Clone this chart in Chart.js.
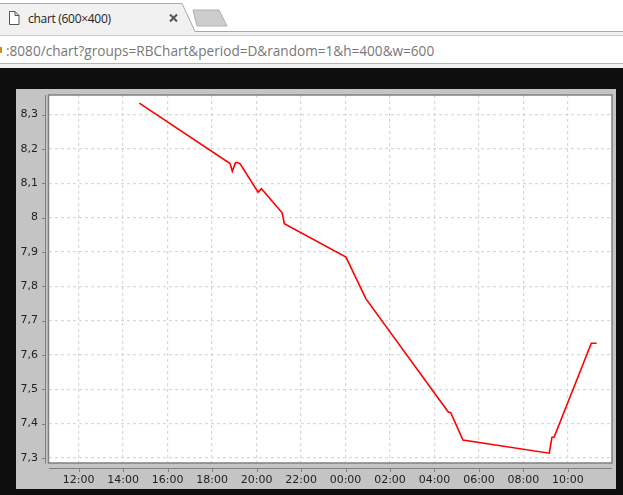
<!DOCTYPE html>
<html>
<head>
<meta charset="utf-8">
<title>chart (600×400)</title>
<script src="https://cdn.jsdelivr.net/npm/chart.js@4"></script>
<style>
  html, body { margin: 0; padding: 0; width: 623px; height: 495px; overflow: hidden; background: #0e0e0e; }
  #top { position: absolute; left: 0; top: 0; width: 623px; height: 68px; background: #f1f1f1; overflow: hidden; }
  #strip { position: absolute; left: 0; top: 0; width: 623px; height: 31px; background: #fff; border-bottom: 1px solid #a8a8a8; }
  #top svg { position: absolute; left: 0; top: 0; }
  #tabtitle { position: absolute; left: 28px; top: 10px; font: 12px "Open Sans", sans-serif; color: #222; white-space: nowrap; letter-spacing: -0.3px; }
  #url { position: absolute; left: 0; top: 36px; width: 623px; height: 27px; background: #fff; border-bottom: 1px solid #b5b5b5; }
  #urltext { position: absolute; left: 6px; top: 5px; font: 13.6px "Open Sans", sans-serif; color: #777; white-space: nowrap; }
  #dot { position: absolute; left: 0; top: 11px; width: 2px; height: 6px; background: #d08a20; }
  #wrap { position: absolute; left: 16px; top: 89px; width: 600px; height: 400px; background: #c4c4c4; }
  canvas { display: block; }
</style>
</head>
<body>
<div id="top">
  <div id="strip"></div>
  <svg width="623" height="36">
    <path d="M-2 36 L-2 3.5 L182 3.5 L195 31.5 L625 31.5 L625 36 Z" fill="#f1f1f1" stroke="#a8a8a8"/>
    <path d="M9.5 11.5 L15 11.5 L19 15.5 L19 24.5 L9.5 24.5 Z M15 11.5 L15 15.5 L19 15.5" fill="#fff" stroke="#555"/>
    <path d="M170 14.5 L177 21.5 M177 14.5 L170 21.5" stroke="#555" stroke-width="2"/>
    <path d="M193 10 L219 10 L227 26 L197 26 Z" fill="#cdcdcd" stroke="#b0b0b0"/>
  </svg>
  <div id="tabtitle">chart (600×400)</div>
  <div id="url"><div id="dot"></div><div id="urltext">:8080/chart?groups=RBChart&amp;period=D&amp;random=1&amp;h=400&amp;w=600</div></div>
</div>
<div id="wrap"><canvas id="myChart" width="600" height="400"></canvas></div>
<script>
// hours counted from midnight of the first day, 24 = 00:00 next day
var hours = [14.73, 18.81, 18.91, 19.05, 19.14, 19.27, 20.07, 20.22, 21.15, 21.25, 24.02, 24.92, 28.62, 28.73, 29.28, 33.16, 33.28, 33.38, 35.05, 35.29];
var values = [8.333, 8.157, 8.135, 8.159, 8.161, 8.156, 8.074, 8.084, 8.014, 7.982, 7.885, 7.763, 7.434, 7.432, 7.352, 7.314, 7.36, 7.361, 7.634, 7.634];
var xTicks = [12, 14, 16, 18, 20, 22, 24, 26, 28, 30, 32, 34];
var xLabels = ['12:00', '14:00', '16:00', '18:00', '20:00', '22:00', '00:00', '02:00', '04:00', '06:00', '08:00', '10:00'];
var yTicks = [7.3, 7.4, 7.5, 7.6, 7.7, 7.8, 7.9, 8, 8.1, 8.2, 8.3];
var yLabels = ['7,3', '7,4', '7,5', '7,6', '7,7', '7,8', '7,9', '8', '8,1', '8,2', '8,3'];

var axisColor = '#808080';
var gridColor = '#d8d8d8';

// white plot area, detached axes and plot frame, the way the original chart has them
var frame = {
    id: 'frame',
    beforeDraw: function(chart) {
        var a = chart.chartArea;
        chart.ctx.fillStyle = '#ffffff';
        chart.ctx.fillRect(a.left, a.top, a.right - a.left, a.bottom - a.top);
    },
    afterDraw: function(chart) {
        var c = chart.ctx, a = chart.chartArea;
        var xs = chart.scales.x, ys = chart.scales.y;
        c.save();
        c.strokeStyle = axisColor;
        c.lineWidth = 1.5;
        c.strokeRect(a.left - 0.5, a.top, a.right - a.left + 0.5, a.bottom - a.top);
        c.lineWidth = 1;
        c.beginPath();
        c.moveTo(a.left - 3.5, a.top);
        c.lineTo(a.left - 3.5, a.bottom + 0.5);
        c.moveTo(a.left, a.bottom + 5.5);
        c.lineTo(a.right, a.bottom + 5.5);
        xTicks.forEach(function(t) {
            var px = Math.round(xs.getPixelForValue(t)) + 0.5;
            c.moveTo(px, a.bottom + 5.5);
            c.lineTo(px, a.bottom + 9);
        });
        yTicks.forEach(function(t) {
            var py = Math.round(ys.getPixelForValue(t)) + 0.5;
            c.moveTo(a.left - 3.5, py);
            c.lineTo(a.left - 7, py);
        });
        c.stroke();
        c.restore();
    }
};

new Chart(document.getElementById('myChart').getContext('2d'), {
    type: 'line',
    plugins: [frame],
    data: {
        datasets: [{
            data: hours.map(function(h, i) { return { x: h, y: values[i] }; }),
            borderColor: '#ff0000',
            borderWidth: 1.6,
            pointRadius: 0,
            tension: 0,
            fill: false
        }]
    },
    options: {
        responsive: false,
        animation: false,
        devicePixelRatio: 1,
        layout: { autoPadding: false, padding: { top: 6, right: 4, left: 0, bottom: 0 } },
        plugins: { legend: { display: false }, title: { display: false }, tooltip: { enabled: false } },
        scales: {
            x: {
                type: 'linear',
                min: 10.67,
                max: 35.98,
                afterBuildTicks: function(s) { s.ticks = xTicks.map(function(v) { return { value: v }; }); },
                afterFit: function(s) { s.height = 26; s.paddingLeft = 0; s.paddingRight = 0; },
                border: { display: false, dash: [3, 3] },
                grid: { color: gridColor, drawTicks: false, lineWidth: 1.2 },
                ticks: {
                    autoSkip: false,
                    maxRotation: 0,
                    padding: 11,
                    color: '#222',
                    font: { family: '"DejaVu Sans"', size: 11 },
                    callback: function(v) { return xLabels[xTicks.indexOf(v)]; }
                }
            },
            y: {
                type: 'linear',
                min: 7.2854,
                max: 8.3568,
                afterBuildTicks: function(s) { s.ticks = yTicks.map(function(v) { return { value: v }; }); },
                afterFit: function(s) { s.width = 33; s.paddingTop = 0; s.paddingBottom = 0; },
                border: { display: false, dash: [3, 3] },
                grid: { color: gridColor, drawTicks: false, lineWidth: 1.2 },
                ticks: {
                    autoSkip: false,
                    padding: 11,
                    color: '#222',
                    font: { family: '"DejaVu Sans"', size: 11 },
                    callback: function(v) { return yLabels[yTicks.indexOf(v)]; }
                }
            }
        }
    }
});
</script>
</body>
</html>
